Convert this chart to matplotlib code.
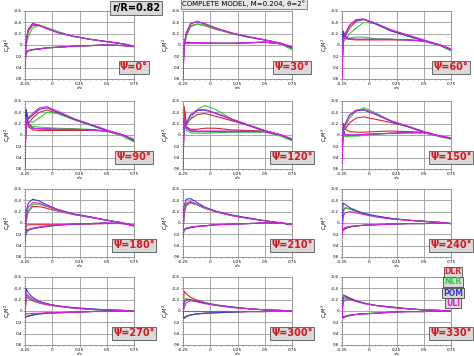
import matplotlib
matplotlib.use("Agg")
import matplotlib.pyplot as plt
import numpy as np

# chordwise stations x/c (pitch axis at 0)
X = [-0.25, -0.24, -0.22, -0.18, -0.12, -0.05, 0.05, 0.2, 0.35, 0.5, 0.65, 0.75]
PSI = [0, 30, 60, 90, 120, 150, 180, 210, 240, 270, 300, 330]
MODELS = ["DLR", "NLR", "POM", "ULI"]
COLORS = ["#e3212b", "#2fcc3a", "#3b3bd6", "#e01fe0"]

# Cp*M^2, upper surface, one row per azimuth
DLR_UP = [
    [0.30, -0.05, -0.24, -0.35, -0.34, -0.29, -0.22, -0.15, -0.10, -0.06, -0.02, 0.02],
    [0.40, 0.05, -0.18, -0.34, -0.37, -0.34, -0.28, -0.20, -0.14, -0.09, -0.03, 0.04],
    [0.50, -0.22, -0.15, -0.30, -0.42, -0.45, -0.38, -0.25, -0.17, -0.08, 0.00, 0.08],
    [0.40, -0.35, -0.20, -0.30, -0.40, -0.44, -0.38, -0.27, -0.18, -0.08, 0.00, 0.10],
    [0.40, -0.50, -0.20, -0.28, -0.36, -0.38, -0.33, -0.25, -0.17, -0.08, 0.00, 0.08],
    [0.30, -0.20, -0.10, -0.22, -0.30, -0.32, -0.28, -0.22, -0.15, -0.06, 0.02, 0.06],
    [0.30, -0.10, -0.20, -0.29, -0.29, -0.26, -0.21, -0.15, -0.10, -0.05, 0.00, 0.04],
    [0.20, -0.20, -0.33, -0.36, -0.32, -0.26, -0.20, -0.13, -0.08, -0.04, 0.00, 0.02],
    [0.15, -0.22, -0.27, -0.25, -0.20, -0.16, -0.12, -0.08, -0.05, -0.03, -0.01, 0.01],
    [0.10, -0.25, -0.22, -0.18, -0.14, -0.11, -0.08, -0.05, -0.03, -0.02, -0.01, 0.00],
    [0.10, -0.35, -0.30, -0.24, -0.19, -0.15, -0.11, -0.07, -0.04, -0.02, -0.01, 0.00],
    [0.10, -0.28, -0.27, -0.23, -0.18, -0.14, -0.10, -0.07, -0.04, -0.02, -0.01, 0.00],
]
NLR_UP = [
    [0.20, 0.00, -0.15, -0.30, -0.35, -0.31, -0.24, -0.15, -0.10, -0.06, -0.02, 0.02],
    [0.30, 0.05, -0.15, -0.32, -0.37, -0.35, -0.29, -0.20, -0.14, -0.09, -0.02, 0.08],
    [0.40, -0.05, -0.10, -0.20, -0.30, -0.40, -0.38, -0.25, -0.16, -0.07, 0.01, 0.10],
    [0.30, -0.20, -0.25, -0.22, -0.30, -0.40, -0.38, -0.27, -0.17, -0.07, 0.02, 0.12],
    [0.30, -0.25, -0.15, -0.30, -0.45, -0.52, -0.45, -0.28, -0.17, -0.06, 0.02, 0.10],
    [0.30, 0.00, -0.15, -0.30, -0.42, -0.48, -0.40, -0.25, -0.15, -0.05, 0.03, 0.07],
    [0.25, 0.00, -0.20, -0.33, -0.33, -0.29, -0.22, -0.15, -0.10, -0.05, 0.00, 0.05],
    [0.20, -0.15, -0.30, -0.35, -0.32, -0.26, -0.20, -0.13, -0.08, -0.04, 0.00, 0.03],
    [0.15, -0.20, -0.26, -0.25, -0.21, -0.17, -0.12, -0.08, -0.05, -0.03, -0.01, 0.01],
    [0.10, -0.28, -0.25, -0.20, -0.15, -0.12, -0.09, -0.05, -0.03, -0.02, -0.01, 0.00],
    [0.10, -0.20, -0.22, -0.20, -0.17, -0.14, -0.11, -0.07, -0.04, -0.02, -0.01, 0.00],
    [0.10, -0.22, -0.23, -0.21, -0.17, -0.14, -0.10, -0.07, -0.04, -0.02, -0.01, 0.00],
]
POM_UP = [
    [0.30, -0.08, -0.28, -0.38, -0.35, -0.29, -0.22, -0.15, -0.10, -0.06, -0.02, 0.03],
    [0.50, 0.00, -0.22, -0.38, -0.41, -0.37, -0.30, -0.21, -0.14, -0.09, -0.03, 0.05],
    [0.50, -0.20, -0.20, -0.35, -0.44, -0.45, -0.38, -0.25, -0.16, -0.08, 0.00, 0.08],
    [0.50, -0.45, -0.28, -0.35, -0.45, -0.48, -0.40, -0.28, -0.18, -0.08, 0.00, 0.09],
    [0.50, -0.30, -0.20, -0.35, -0.43, -0.44, -0.38, -0.27, -0.17, -0.07, 0.00, 0.08],
    [0.40, -0.10, -0.20, -0.35, -0.43, -0.44, -0.37, -0.24, -0.15, -0.05, 0.02, 0.06],
    [0.30, -0.20, -0.35, -0.42, -0.39, -0.32, -0.24, -0.16, -0.11, -0.05, 0.00, 0.05],
    [0.20, -0.30, -0.42, -0.43, -0.36, -0.28, -0.21, -0.14, -0.09, -0.04, 0.00, 0.03],
    [0.15, -0.35, -0.33, -0.27, -0.22, -0.17, -0.13, -0.08, -0.05, -0.03, -0.01, 0.01],
    [0.10, -0.40, -0.32, -0.24, -0.17, -0.13, -0.09, -0.06, -0.04, -0.02, -0.01, 0.00],
    [0.10, -0.15, -0.20, -0.20, -0.17, -0.14, -0.10, -0.07, -0.04, -0.02, -0.01, 0.00],
    [0.10, -0.24, -0.25, -0.22, -0.18, -0.14, -0.10, -0.07, -0.04, -0.02, -0.01, 0.00],
]
ULI_UP = [
    [0.40, -0.05, -0.26, -0.37, -0.35, -0.29, -0.22, -0.15, -0.10, -0.06, -0.02, 0.02],
    [0.60, 0.00, -0.20, -0.37, -0.42, -0.38, -0.30, -0.21, -0.15, -0.09, -0.03, 0.03],
    [0.60, -0.10, -0.20, -0.35, -0.45, -0.46, -0.39, -0.27, -0.18, -0.09, 0.00, 0.07],
    [0.60, -0.30, -0.30, -0.38, -0.48, -0.50, -0.42, -0.29, -0.19, -0.09, 0.00, 0.08],
    [0.70, -0.30, -0.22, -0.36, -0.44, -0.45, -0.39, -0.28, -0.18, -0.08, 0.00, 0.07],
    [0.50, -0.05, -0.20, -0.36, -0.44, -0.45, -0.38, -0.25, -0.16, -0.06, 0.02, 0.05],
    [0.35, -0.10, -0.28, -0.36, -0.35, -0.30, -0.23, -0.15, -0.10, -0.05, 0.00, 0.04],
    [0.25, -0.20, -0.35, -0.38, -0.33, -0.27, -0.20, -0.13, -0.08, -0.04, 0.00, 0.02],
    [0.20, -0.12, -0.18, -0.20, -0.18, -0.15, -0.11, -0.07, -0.05, -0.03, -0.01, 0.01],
    [0.10, -0.30, -0.27, -0.21, -0.16, -0.12, -0.09, -0.05, -0.03, -0.02, -0.01, 0.00],
    [0.00, -0.05, -0.15, -0.18, -0.16, -0.13, -0.10, -0.06, -0.04, -0.02, -0.01, 0.00],
    [0.10, -0.15, -0.20, -0.20, -0.17, -0.13, -0.10, -0.06, -0.04, -0.02, -0.01, 0.00],
]

# Cp*M^2, lower surface
DLR_LO = [
    [0.30, 0.13, 0.10, 0.08, 0.07, 0.05, 0.04, 0.02, 0.01, 0.00, 0.01, 0.02],
    [0.40, -0.03, -0.04, -0.04, -0.04, -0.03, -0.03, -0.03, -0.04, -0.05, -0.02, 0.04],
    [0.50, -0.20, -0.12, -0.10, -0.09, -0.09, -0.09, -0.09, -0.09, -0.07, 0.00, 0.08],
    [0.40, -0.35, -0.15, -0.09, -0.08, -0.08, -0.08, -0.08, -0.08, -0.07, 0.00, 0.10],
    [0.40, -0.50, -0.15, -0.10, -0.10, -0.12, -0.12, -0.09, -0.08, -0.07, 0.00, 0.08],
    [0.30, -0.20, -0.10, -0.06, -0.05, -0.05, -0.06, -0.07, -0.06, -0.05, 0.02, 0.06],
    [0.30, 0.05, 0.03, 0.03, 0.03, 0.03, 0.03, 0.02, 0.02, 0.01, 0.01, 0.04],
    [0.20, 0.12, 0.10, 0.08, 0.06, 0.05, 0.03, 0.02, 0.01, 0.00, 0.00, 0.02],
    [0.15, 0.12, 0.09, 0.07, 0.05, 0.04, 0.03, 0.02, 0.01, 0.01, 0.00, 0.01],
    [0.10, 0.10, 0.09, 0.07, 0.05, 0.04, 0.03, 0.02, 0.01, 0.00, 0.00, 0.00],
    [0.10, 0.12, 0.09, 0.07, 0.05, 0.04, 0.03, 0.02, 0.01, 0.01, 0.00, 0.00],
    [0.10, 0.12, 0.10, 0.08, 0.06, 0.05, 0.04, 0.02, 0.01, 0.01, 0.00, 0.00],
]
NLR_LO = [
    [0.20, 0.15, 0.11, 0.09, 0.07, 0.05, 0.04, 0.02, 0.01, 0.00, 0.01, 0.02],
    [0.30, -0.02, -0.03, -0.03, -0.03, -0.03, -0.03, -0.03, -0.04, -0.05, -0.02, 0.08],
    [0.40, -0.05, -0.10, -0.12, -0.14, -0.14, -0.11, -0.10, -0.09, -0.07, 0.01, 0.10],
    [0.30, -0.20, -0.20, -0.15, -0.14, -0.13, -0.12, -0.11, -0.10, -0.07, 0.02, 0.12],
    [0.30, -0.25, -0.08, -0.04, -0.03, -0.03, -0.04, -0.05, -0.05, -0.05, 0.02, 0.10],
    [0.30, 0.00, 0.03, 0.02, 0.02, 0.01, -0.01, -0.03, -0.04, -0.04, 0.03, 0.07],
    [0.25, 0.20, 0.13, 0.10, 0.08, 0.06, 0.04, 0.02, 0.01, 0.00, 0.01, 0.05],
    [0.20, 0.13, 0.10, 0.08, 0.06, 0.05, 0.03, 0.02, 0.01, 0.00, 0.00, 0.03],
    [0.15, 0.11, 0.09, 0.07, 0.05, 0.04, 0.03, 0.02, 0.01, 0.01, 0.00, 0.01],
    [0.10, 0.11, 0.09, 0.07, 0.05, 0.04, 0.03, 0.02, 0.01, 0.00, 0.00, 0.00],
    [0.10, 0.11, 0.09, 0.07, 0.05, 0.04, 0.03, 0.02, 0.01, 0.01, 0.00, 0.00],
    [0.10, 0.11, 0.10, 0.08, 0.06, 0.05, 0.04, 0.02, 0.01, 0.01, 0.00, 0.00],
]
POM_LO = [
    [0.30, 0.12, 0.10, 0.08, 0.07, 0.05, 0.04, 0.02, 0.01, 0.00, 0.01, 0.03],
    [0.50, -0.03, -0.04, -0.04, -0.04, -0.04, -0.03, -0.03, -0.04, -0.05, -0.02, 0.05],
    [0.50, -0.25, -0.15, -0.11, -0.10, -0.10, -0.10, -0.10, -0.09, -0.07, 0.00, 0.08],
    [0.50, -0.45, -0.20, -0.12, -0.11, -0.11, -0.10, -0.10, -0.09, -0.07, 0.00, 0.09],
    [0.50, -0.30, -0.12, -0.07, -0.06, -0.06, -0.06, -0.06, -0.06, -0.06, 0.00, 0.08],
    [0.40, -0.10, 0.00, 0.00, 0.00, -0.01, -0.02, -0.03, -0.04, -0.04, 0.02, 0.06],
    [0.30, 0.15, 0.12, 0.10, 0.08, 0.06, 0.04, 0.02, 0.01, 0.00, 0.01, 0.05],
    [0.20, 0.12, 0.10, 0.08, 0.06, 0.05, 0.03, 0.02, 0.01, 0.00, 0.00, 0.03],
    [0.15, 0.13, 0.10, 0.07, 0.05, 0.04, 0.03, 0.02, 0.01, 0.01, 0.00, 0.01],
    [0.10, 0.10, 0.09, 0.07, 0.05, 0.04, 0.03, 0.02, 0.01, 0.00, 0.00, 0.00],
    [0.10, 0.13, 0.10, 0.07, 0.05, 0.04, 0.03, 0.02, 0.01, 0.01, 0.00, 0.00],
    [0.10, 0.12, 0.10, 0.08, 0.06, 0.05, 0.04, 0.02, 0.01, 0.01, 0.00, 0.00],
]
ULI_LO = [
    [0.40, 0.12, 0.10, 0.08, 0.07, 0.05, 0.04, 0.02, 0.01, 0.00, 0.01, 0.02],
    [0.60, -0.03, -0.04, -0.04, -0.04, -0.04, -0.03, -0.03, -0.04, -0.05, -0.02, 0.03],
    [0.60, -0.10, -0.12, -0.10, -0.10, -0.10, -0.10, -0.10, -0.09, -0.07, 0.00, 0.07],
    [0.60, -0.30, -0.18, -0.12, -0.11, -0.10, -0.10, -0.10, -0.09, -0.07, 0.00, 0.08],
    [0.70, -0.30, -0.14, -0.08, -0.07, -0.07, -0.07, -0.07, -0.07, -0.06, 0.00, 0.07],
    [0.50, -0.05, 0.00, 0.00, 0.00, -0.01, -0.02, -0.03, -0.04, -0.04, 0.02, 0.05],
    [0.35, 0.12, 0.11, 0.09, 0.07, 0.05, 0.03, 0.02, 0.01, 0.00, 0.01, 0.04],
    [0.25, 0.11, 0.09, 0.07, 0.06, 0.05, 0.03, 0.02, 0.01, 0.00, 0.00, 0.02],
    [0.20, 0.10, 0.08, 0.06, 0.05, 0.04, 0.03, 0.02, 0.01, 0.01, 0.00, 0.01],
    [0.10, 0.05, 0.05, 0.04, 0.04, 0.03, 0.03, 0.02, 0.01, 0.01, 0.00, 0.00],
    [0.00, 0.00, 0.00, 0.00, 0.00, 0.00, 0.00, 0.00, 0.00, 0.00, 0.00, 0.00],
    [0.10, 0.10, 0.09, 0.07, 0.06, 0.05, 0.04, 0.02, 0.01, 0.01, 0.00, 0.00],
]

X_TICKS = [-0.25, 0, 0.25, 0.5, 0.75]
X_TICKLABELS = ["-0.25", "0", "0.25", "0.5", "0.75"]
Y_TICKS = [-0.6, -0.4, -0.2, 0, 0.2, 0.4, 0.6]
Y_TICKLABELS = ["-0.6", "-0.4", "-0.2", "0", "0.2", "0.4", "0.6"]

UPPER = [DLR_UP, NLR_UP, POM_UP, ULI_UP]
LOWER = [DLR_LO, NLR_LO, POM_LO, ULI_LO]

fig = plt.figure(figsize=(4.74, 3.56), dpi=100)
fig.patch.set_facecolor("white")

lefts = [25, 183, 342]
tops = [11, 101, 189, 277]
W, H = 109, 68
FW, FH = 474, 356

for i, psi in enumerate(PSI):
    r, c = divmod(i, 3)
    ax = fig.add_axes([lefts[c] / FW, 1 - (tops[r] + H) / FH, W / FW, H / FH])
    ax.set_xlim(-0.25, 0.75)
    ax.set_ylim(0.6, -0.6)
    for v in [0, 0.25, 0.5]:
        ax.axvline(v, color="#9a9a9a", lw=0.6, zorder=0)
    for v in [-0.4, -0.2, 0, 0.2, 0.4]:
        ax.axhline(v, color="#9a9a9a", lw=0.6, zorder=0)
    for k in range(4):
        ax.plot(X, UPPER[k][i], color=COLORS[k], lw=0.8, zorder=2 + k)
        ax.plot(X, LOWER[k][i], color=COLORS[k], lw=0.8, zorder=2 + k)
    ax.set_xticks(X_TICKS)
    ax.set_xticklabels(X_TICKLABELS)
    ax.set_yticks(Y_TICKS)
    ax.set_yticklabels(Y_TICKLABELS)
    ax.minorticks_on()
    ax.tick_params(which="both", labelsize=3, length=1.2, width=0.4, pad=1, color="#555555")
    ax.tick_params(which="minor", length=0.8)
    for s in ax.spines.values():
        s.set_color("#888888")
        s.set_linewidth(0.6)
    ax.set_xlabel("x/c", fontsize=3, labelpad=0)
    ax.set_ylabel(r"$C_p M^2$", fontsize=3.5, labelpad=0)
    ax.text(1.0, 0.17, "Ψ=%d°" % psi, transform=ax.transAxes, ha="center", va="center",
            color="#d4191f", fontsize=7, fontweight="bold", zorder=10,
            bbox=dict(boxstyle="square,pad=0.15", fc="#d9d9d9", ec="#555555", lw=0.6))

fig.text(136 / FW, 1 - 8 / FH, "r/R=0.82", ha="center", va="center", fontsize=7,
         fontweight="bold", color="black",
         bbox=dict(boxstyle="square,pad=0.2", fc="#d9d9d9", ec="#555555", lw=0.6))
fig.text(244 / FW, 1 - 4 / FH, "COMPLETE MODEL, M=0.204, θ=2°", ha="center", va="center",
         fontsize=5, color="black",
         bbox=dict(boxstyle="square,pad=0.2", fc="#e6e6e6", ec="#777777", lw=0.6))

leg_y = [272, 282, 293, 303]
for k, name in enumerate(MODELS):
    fig.text(453 / FW, 1 - leg_y[k] / FH, name, ha="center", va="center", fontsize=5.5,
             fontweight="bold", color=COLORS[k],
             bbox=dict(boxstyle="square,pad=0.12", fc="#d9d9d9", ec="#444444", lw=0.6))

fig.savefig("out.png", dpi=100, facecolor="white")
